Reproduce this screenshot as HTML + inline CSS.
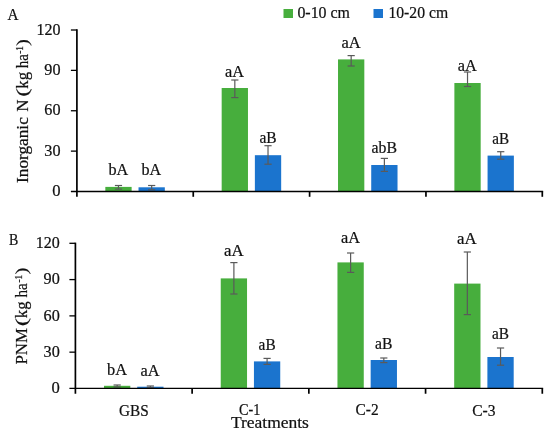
<!DOCTYPE html>
<html><head><meta charset="utf-8"><title>Chart</title>
<style>html,body{margin:0;padding:0;background:#fff}svg{display:block}text{font-family:"Liberation Serif",serif;fill:#111;stroke:#111;stroke-width:0.22px}</style></head>
<body><svg width="550" height="434" viewBox="0 0 550 434">
<rect width="550" height="434" fill="#fff"/>
<rect x="105.33" y="186.90" width="26.30" height="4.60" fill="#47AE3D"/>
<rect x="138.52" y="187.30" width="26.30" height="4.20" fill="#1B74CE"/>
<line x1="118.47" y1="185.50" x2="118.47" y2="189.10" stroke="#5a5a5a" stroke-width="1.2"/>
<line x1="114.88" y1="185.50" x2="122.07" y2="185.50" stroke="#5a5a5a" stroke-width="1.2"/>
<line x1="114.88" y1="189.10" x2="122.07" y2="189.10" stroke="#5a5a5a" stroke-width="1.2"/>
<line x1="151.67" y1="185.50" x2="151.67" y2="189.80" stroke="#5a5a5a" stroke-width="1.2"/>
<line x1="148.07" y1="185.50" x2="155.27" y2="185.50" stroke="#5a5a5a" stroke-width="1.2"/>
<line x1="148.07" y1="189.80" x2="155.27" y2="189.80" stroke="#5a5a5a" stroke-width="1.2"/>
<rect x="221.67" y="88.00" width="26.30" height="103.50" fill="#47AE3D"/>
<rect x="254.87" y="155.20" width="26.30" height="36.30" fill="#1B74CE"/>
<line x1="234.82" y1="80.00" x2="234.82" y2="97.60" stroke="#5a5a5a" stroke-width="1.2"/>
<line x1="231.22" y1="80.00" x2="238.42" y2="80.00" stroke="#5a5a5a" stroke-width="1.2"/>
<line x1="231.22" y1="97.60" x2="238.42" y2="97.60" stroke="#5a5a5a" stroke-width="1.2"/>
<line x1="268.02" y1="145.70" x2="268.02" y2="164.20" stroke="#5a5a5a" stroke-width="1.2"/>
<line x1="264.42" y1="145.70" x2="271.62" y2="145.70" stroke="#5a5a5a" stroke-width="1.2"/>
<line x1="264.42" y1="164.20" x2="271.62" y2="164.20" stroke="#5a5a5a" stroke-width="1.2"/>
<rect x="338.02" y="59.40" width="26.30" height="132.10" fill="#47AE3D"/>
<rect x="371.22" y="165.00" width="26.30" height="26.50" fill="#1B74CE"/>
<line x1="351.17" y1="55.60" x2="351.17" y2="66.00" stroke="#5a5a5a" stroke-width="1.2"/>
<line x1="347.57" y1="55.60" x2="354.77" y2="55.60" stroke="#5a5a5a" stroke-width="1.2"/>
<line x1="347.57" y1="66.00" x2="354.77" y2="66.00" stroke="#5a5a5a" stroke-width="1.2"/>
<line x1="384.38" y1="158.40" x2="384.38" y2="171.40" stroke="#5a5a5a" stroke-width="1.2"/>
<line x1="380.77" y1="158.40" x2="387.98" y2="158.40" stroke="#5a5a5a" stroke-width="1.2"/>
<line x1="380.77" y1="171.40" x2="387.98" y2="171.40" stroke="#5a5a5a" stroke-width="1.2"/>
<rect x="454.38" y="83.00" width="26.30" height="108.50" fill="#47AE3D"/>
<rect x="487.57" y="155.60" width="26.30" height="35.90" fill="#1B74CE"/>
<line x1="467.52" y1="72.00" x2="467.52" y2="86.50" stroke="#5a5a5a" stroke-width="1.2"/>
<line x1="463.92" y1="72.00" x2="471.12" y2="72.00" stroke="#5a5a5a" stroke-width="1.2"/>
<line x1="463.92" y1="86.50" x2="471.12" y2="86.50" stroke="#5a5a5a" stroke-width="1.2"/>
<line x1="500.73" y1="151.70" x2="500.73" y2="159.20" stroke="#5a5a5a" stroke-width="1.2"/>
<line x1="497.12" y1="151.70" x2="504.33" y2="151.70" stroke="#5a5a5a" stroke-width="1.2"/>
<line x1="497.12" y1="159.20" x2="504.33" y2="159.20" stroke="#5a5a5a" stroke-width="1.2"/>
<line x1="76.90" y1="29.35" x2="76.90" y2="196.80" stroke="#000" stroke-width="1.7"/>
<line x1="70.90" y1="191.50" x2="543.15" y2="191.50" stroke="#000" stroke-width="1.3"/>
<line x1="70.90" y1="30.00" x2="76.90" y2="30.00" stroke="#000" stroke-width="1.3"/>
<line x1="70.90" y1="70.38" x2="76.90" y2="70.38" stroke="#000" stroke-width="1.3"/>
<line x1="70.90" y1="110.75" x2="76.90" y2="110.75" stroke="#000" stroke-width="1.3"/>
<line x1="70.90" y1="151.12" x2="76.90" y2="151.12" stroke="#000" stroke-width="1.3"/>
<line x1="193.25" y1="191.50" x2="193.25" y2="196.80" stroke="#000" stroke-width="1.7"/>
<line x1="309.60" y1="191.50" x2="309.60" y2="196.80" stroke="#000" stroke-width="1.7"/>
<line x1="425.95" y1="191.50" x2="425.95" y2="196.80" stroke="#000" stroke-width="1.7"/>
<line x1="542.30" y1="191.50" x2="542.30" y2="196.80" stroke="#000" stroke-width="1.7"/>
<rect x="104.01" y="385.80" width="26.30" height="2.65" fill="#47AE3D"/>
<rect x="137.21" y="386.70" width="26.30" height="1.75" fill="#1B74CE"/>
<line x1="117.16" y1="385.00" x2="117.16" y2="387.00" stroke="#5a5a5a" stroke-width="1.2"/>
<line x1="113.56" y1="385.00" x2="120.76" y2="385.00" stroke="#5a5a5a" stroke-width="1.2"/>
<line x1="113.56" y1="387.00" x2="120.76" y2="387.00" stroke="#5a5a5a" stroke-width="1.2"/>
<line x1="150.36" y1="386.00" x2="150.36" y2="387.80" stroke="#5a5a5a" stroke-width="1.2"/>
<line x1="146.76" y1="386.00" x2="153.96" y2="386.00" stroke="#5a5a5a" stroke-width="1.2"/>
<line x1="146.76" y1="387.80" x2="153.96" y2="387.80" stroke="#5a5a5a" stroke-width="1.2"/>
<rect x="220.74" y="278.40" width="26.30" height="110.05" fill="#47AE3D"/>
<rect x="253.94" y="361.40" width="26.30" height="27.05" fill="#1B74CE"/>
<line x1="233.89" y1="262.60" x2="233.89" y2="294.00" stroke="#5a5a5a" stroke-width="1.2"/>
<line x1="230.29" y1="262.60" x2="237.49" y2="262.60" stroke="#5a5a5a" stroke-width="1.2"/>
<line x1="230.29" y1="294.00" x2="237.49" y2="294.00" stroke="#5a5a5a" stroke-width="1.2"/>
<line x1="267.09" y1="358.40" x2="267.09" y2="364.40" stroke="#5a5a5a" stroke-width="1.2"/>
<line x1="263.49" y1="358.40" x2="270.69" y2="358.40" stroke="#5a5a5a" stroke-width="1.2"/>
<line x1="263.49" y1="364.40" x2="270.69" y2="364.40" stroke="#5a5a5a" stroke-width="1.2"/>
<rect x="337.46" y="262.40" width="26.30" height="126.05" fill="#47AE3D"/>
<rect x="370.66" y="360.00" width="26.30" height="28.45" fill="#1B74CE"/>
<line x1="350.61" y1="253.00" x2="350.61" y2="272.40" stroke="#5a5a5a" stroke-width="1.2"/>
<line x1="347.01" y1="253.00" x2="354.21" y2="253.00" stroke="#5a5a5a" stroke-width="1.2"/>
<line x1="347.01" y1="272.40" x2="354.21" y2="272.40" stroke="#5a5a5a" stroke-width="1.2"/>
<line x1="383.81" y1="358.00" x2="383.81" y2="362.60" stroke="#5a5a5a" stroke-width="1.2"/>
<line x1="380.21" y1="358.00" x2="387.41" y2="358.00" stroke="#5a5a5a" stroke-width="1.2"/>
<line x1="380.21" y1="362.60" x2="387.41" y2="362.60" stroke="#5a5a5a" stroke-width="1.2"/>
<rect x="454.19" y="283.60" width="26.30" height="104.85" fill="#47AE3D"/>
<rect x="487.39" y="357.00" width="26.30" height="31.45" fill="#1B74CE"/>
<line x1="467.34" y1="252.00" x2="467.34" y2="314.60" stroke="#5a5a5a" stroke-width="1.2"/>
<line x1="463.74" y1="252.00" x2="470.94" y2="252.00" stroke="#5a5a5a" stroke-width="1.2"/>
<line x1="463.74" y1="314.60" x2="470.94" y2="314.60" stroke="#5a5a5a" stroke-width="1.2"/>
<line x1="500.54" y1="348.00" x2="500.54" y2="365.20" stroke="#5a5a5a" stroke-width="1.2"/>
<line x1="496.94" y1="348.00" x2="504.14" y2="348.00" stroke="#5a5a5a" stroke-width="1.2"/>
<line x1="496.94" y1="365.20" x2="504.14" y2="365.20" stroke="#5a5a5a" stroke-width="1.2"/>
<line x1="75.40" y1="242.65" x2="75.40" y2="393.75" stroke="#000" stroke-width="1.7"/>
<line x1="69.40" y1="388.45" x2="543.15" y2="388.45" stroke="#000" stroke-width="1.3"/>
<line x1="69.40" y1="243.30" x2="75.40" y2="243.30" stroke="#000" stroke-width="1.3"/>
<line x1="69.40" y1="279.59" x2="75.40" y2="279.59" stroke="#000" stroke-width="1.3"/>
<line x1="69.40" y1="315.88" x2="75.40" y2="315.88" stroke="#000" stroke-width="1.3"/>
<line x1="69.40" y1="352.16" x2="75.40" y2="352.16" stroke="#000" stroke-width="1.3"/>
<line x1="192.12" y1="388.45" x2="192.12" y2="393.75" stroke="#000" stroke-width="1.7"/>
<line x1="308.85" y1="388.45" x2="308.85" y2="393.75" stroke="#000" stroke-width="1.7"/>
<line x1="425.57" y1="388.45" x2="425.57" y2="393.75" stroke="#000" stroke-width="1.7"/>
<line x1="542.30" y1="388.45" x2="542.30" y2="393.75" stroke="#000" stroke-width="1.7"/>
<text x="108.40" y="175.30" font-size="16" textLength="19.80" lengthAdjust="spacingAndGlyphs">bA</text>
<text x="141.50" y="175.30" font-size="16" textLength="19.70" lengthAdjust="spacingAndGlyphs">bA</text>
<text x="225.00" y="76.60" font-size="16" textLength="19.00" lengthAdjust="spacingAndGlyphs">aA</text>
<text x="259.40" y="143.20" font-size="16" textLength="17.20" lengthAdjust="spacingAndGlyphs">aB</text>
<text x="341.40" y="47.60" font-size="16" textLength="19.20" lengthAdjust="spacingAndGlyphs">aA</text>
<text x="371.60" y="152.60" font-size="16" textLength="25.40" lengthAdjust="spacingAndGlyphs">abB</text>
<text x="457.80" y="71.00" font-size="16" textLength="19.00" lengthAdjust="spacingAndGlyphs">aA</text>
<text x="492.20" y="143.80" font-size="16" textLength="16.80" lengthAdjust="spacingAndGlyphs">aB</text>
<text x="107.00" y="374.60" font-size="16" textLength="20.00" lengthAdjust="spacingAndGlyphs">bA</text>
<text x="140.60" y="375.60" font-size="16" textLength="19.00" lengthAdjust="spacingAndGlyphs">aA</text>
<text x="224.00" y="256.40" font-size="16" textLength="19.60" lengthAdjust="spacingAndGlyphs">aA</text>
<text x="258.60" y="349.60" font-size="16" textLength="17.00" lengthAdjust="spacingAndGlyphs">aB</text>
<text x="341.00" y="242.60" font-size="16" textLength="19.00" lengthAdjust="spacingAndGlyphs">aA</text>
<text x="375.00" y="348.60" font-size="16" textLength="17.40" lengthAdjust="spacingAndGlyphs">aB</text>
<text x="457.00" y="244.40" font-size="16" textLength="19.60" lengthAdjust="spacingAndGlyphs">aA</text>
<text x="492.00" y="338.60" font-size="16" textLength="17.00" lengthAdjust="spacingAndGlyphs">aB</text>
<text x="36.50" y="34.70" font-size="16" textLength="24.00" lengthAdjust="spacingAndGlyphs">120</text>
<text x="44.30" y="75.10" font-size="16" textLength="16.20" lengthAdjust="spacingAndGlyphs">90</text>
<text x="44.30" y="115.45" font-size="16" textLength="16.20" lengthAdjust="spacingAndGlyphs">60</text>
<text x="44.30" y="155.80" font-size="16" textLength="16.20" lengthAdjust="spacingAndGlyphs">30</text>
<text x="52.20" y="196.20" font-size="16" textLength="8.30" lengthAdjust="spacingAndGlyphs">0</text>
<text x="35.80" y="248.00" font-size="16" textLength="24.00" lengthAdjust="spacingAndGlyphs">120</text>
<text x="43.60" y="284.30" font-size="16" textLength="16.20" lengthAdjust="spacingAndGlyphs">90</text>
<text x="43.60" y="320.60" font-size="16" textLength="16.20" lengthAdjust="spacingAndGlyphs">60</text>
<text x="43.60" y="356.90" font-size="16" textLength="16.20" lengthAdjust="spacingAndGlyphs">30</text>
<text x="51.50" y="393.15" font-size="16" textLength="8.30" lengthAdjust="spacingAndGlyphs">0</text>
<text x="7.60" y="19.60" font-size="16" textLength="11.00" lengthAdjust="spacingAndGlyphs">A</text>
<text x="9.00" y="244.60" font-size="16" textLength="9.30" lengthAdjust="spacingAndGlyphs">B</text>
<rect x="283.50" y="9.00" width="9.50" height="9.00" fill="#47AE3D"/>
<rect x="373.50" y="9.00" width="9.50" height="9.00" fill="#1B74CE"/>
<text x="297.40" y="17.70" font-size="16" textLength="52.60" lengthAdjust="spacingAndGlyphs">0-10 cm</text>
<text x="388.40" y="17.70" font-size="16" textLength="59.70" lengthAdjust="spacingAndGlyphs">10-20 cm</text>
<text x="119.10" y="415.50" font-size="16" textLength="29.60" lengthAdjust="spacingAndGlyphs">GBS</text>
<text x="239.10" y="415.30" font-size="16" textLength="21.40" lengthAdjust="spacingAndGlyphs">C-1</text>
<text x="355.60" y="415.40" font-size="16" textLength="23.10" lengthAdjust="spacingAndGlyphs">C-2</text>
<text x="472.20" y="415.50" font-size="16" textLength="23.30" lengthAdjust="spacingAndGlyphs">C-3</text>
<text x="231.00" y="427.70" font-size="16" textLength="77.90" lengthAdjust="spacingAndGlyphs">Treatments</text>
<text transform="translate(27.50,182.90) rotate(-90)" x="0" y="0" font-size="16" textLength="65.70" lengthAdjust="spacingAndGlyphs">Inorganic</text>
<text transform="translate(27.50,111.70) rotate(-90)" x="0" y="0" font-size="16" textLength="12.20" lengthAdjust="spacingAndGlyphs">N</text>
<text style="stroke-width:0.1px" transform="translate(27.50,96.70) rotate(-90)" x="0" y="0" font-size="16" textLength="8.20" lengthAdjust="spacingAndGlyphs">(</text>
<text transform="translate(27.50,88.70) rotate(-90)" x="0" y="0" font-size="16" textLength="16.70" lengthAdjust="spacingAndGlyphs">kg</text>
<text transform="translate(27.50,68.20) rotate(-90)" x="0" y="0" font-size="16" textLength="14.20" lengthAdjust="spacingAndGlyphs">ha</text>
<text transform="translate(22.90,53.80) rotate(-90)" x="0" y="0" font-size="10.5" textLength="7.80" lengthAdjust="spacingAndGlyphs">-1</text>
<text style="stroke-width:0.1px" transform="translate(27.50,45.90) rotate(-90)" x="0" y="0" font-size="16" textLength="6.80" lengthAdjust="spacingAndGlyphs">)</text>
<text transform="translate(26.50,364.50) rotate(-90)" x="0" y="0" font-size="16" textLength="36.30" lengthAdjust="spacingAndGlyphs">PNM</text>
<text style="stroke-width:0.1px" transform="translate(26.50,326.30) rotate(-90)" x="0" y="0" font-size="16" textLength="8.40" lengthAdjust="spacingAndGlyphs">(</text>
<text transform="translate(26.50,318.20) rotate(-90)" x="0" y="0" font-size="16" textLength="16.80" lengthAdjust="spacingAndGlyphs">kg</text>
<text transform="translate(26.50,297.50) rotate(-90)" x="0" y="0" font-size="16" textLength="14.20" lengthAdjust="spacingAndGlyphs">ha</text>
<text transform="translate(21.90,282.60) rotate(-90)" x="0" y="0" font-size="10.5" textLength="7.80" lengthAdjust="spacingAndGlyphs">-1</text>
<text style="stroke-width:0.1px" transform="translate(26.50,274.60) rotate(-90)" x="0" y="0" font-size="16" textLength="6.80" lengthAdjust="spacingAndGlyphs">)</text>
</svg></body></html>
